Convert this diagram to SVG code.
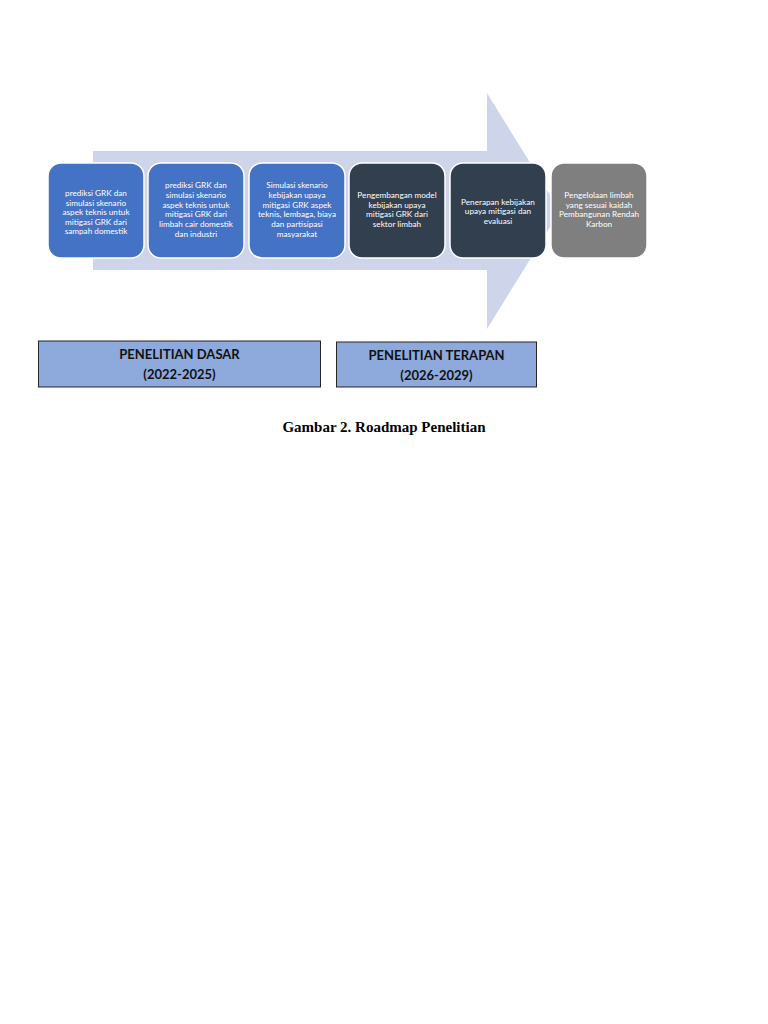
<svg xmlns="http://www.w3.org/2000/svg" width="768" height="1024" viewBox="0 0 768 1024">
<style>
.step{stroke:#ffffff;stroke-width:1.5}
.blue{fill:#4472C4}
.dark{fill:#323F4F}
.gray{fill:#7F7F7F}
.st{font-family:Lato,"Open Sans",sans-serif;font-size:8.2px;fill:#ffffff;text-anchor:middle}
.ph{fill:#8EA9DB;stroke:#262626;stroke-width:1}
.pt{font-family:Lato,"Open Sans",sans-serif;font-size:13px;font-weight:bold;fill:#111111;text-anchor:middle}
.cap{font-family:"Liberation Serif",serif;font-size:15px;font-weight:bold;fill:#000000;text-anchor:middle}
</style>
<rect width="768" height="1024" fill="#ffffff"/>
<g id="connectors">
<polygon id="arrow" points="93,151 487,151 487,93 560,211 487,329 487,270 93,270" fill="#CED4EA"/>
</g>
<g id="step1">
<rect class="step blue" x="48" y="163" width="96" height="95" rx="13"/>
<text class="st"><tspan x="96" y="196">prediksi GRK dan</tspan><tspan x="96" y="205.5">simulasi skenario</tspan><tspan x="96" y="215">aspek teknis untuk</tspan><tspan x="96" y="224.5">mitigasi GRK dari</tspan><tspan x="96" y="234">sampah domestik</tspan></text>
</g>
<g id="step2">
<rect class="step blue" x="148" y="163" width="96" height="95" rx="13"/>
<text class="st"><tspan x="196" y="188">prediksi GRK dan</tspan><tspan x="196" y="197.8">simulasi skenario</tspan><tspan x="196" y="207.6">aspek teknis untuk</tspan><tspan x="196" y="217.4">mitigasi GRK dari</tspan><tspan x="196" y="227.2">limbah cair domestik</tspan><tspan x="196" y="237">dan industri</tspan></text>
</g>
<g id="step3">
<rect class="step blue" x="249" y="163" width="96" height="95" rx="13"/>
<text class="st"><tspan x="297" y="188">Simulasi skenario</tspan><tspan x="297" y="197.8">kebijakan upaya</tspan><tspan x="297" y="207.6">mitigasi GRK aspek</tspan><tspan x="297" y="217.4">teknis, lembaga, biaya</tspan><tspan x="297" y="227.2">dan partisipasi</tspan><tspan x="297" y="237">masyarakat</tspan></text>
</g>
<g id="step4">
<rect class="step dark" x="349" y="163" width="96" height="95" rx="13"/>
<text class="st"><tspan x="397" y="198">Pengembangan model</tspan><tspan x="397" y="207.5">kebijakan upaya</tspan><tspan x="397" y="217">mitigasi GRK dari</tspan><tspan x="397" y="226.5">sektor limbah</tspan></text>
</g>
<g id="step5">
<rect class="step dark" x="450" y="163" width="96" height="95" rx="13"/>
<text class="st"><tspan x="498" y="205">Penerapan kebijakan</tspan><tspan x="498" y="214">upaya mitigasi dan</tspan><tspan x="498" y="224">evaluasi</tspan></text>
</g>
<g id="step6">
<rect class="step gray" x="551" y="163" width="96" height="95" rx="13"/>
<text class="st"><tspan x="599" y="198">Pengelolaan limbah</tspan><tspan x="599" y="207.5">yang sesuai kaidah</tspan><tspan x="599" y="217">Pembangunan Rendah</tspan><tspan x="599" y="226.5">Karbon</tspan></text>
</g>
<g id="phase1">
<rect class="ph" x="38.5" y="341" width="282" height="46"/>
<text class="pt"><tspan x="179.5" y="359">PENELITIAN DASAR</tspan><tspan x="179.5" y="379">(2022-2025)</tspan></text>
</g>
<g id="phase2">
<rect class="ph" x="336.5" y="342" width="200" height="45"/>
<text class="pt"><tspan x="436.5" y="359.5">PENELITIAN TERAPAN</tspan><tspan x="436.5" y="379.5">(2026-2029)</tspan></text>
</g>
<g id="caption">
<text class="cap" x="384" y="432">Gambar 2. Roadmap Penelitian</text>
</g>
</svg>
